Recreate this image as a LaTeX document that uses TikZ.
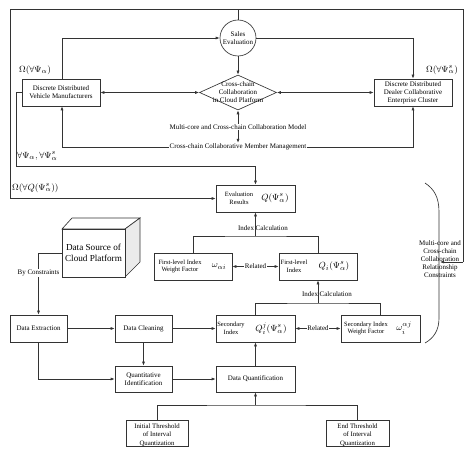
\documentclass[tikz,border=0pt]{standalone}
\usepackage{fontspec}
\setmainfont{Liberation Serif}
\usetikzlibrary{arrows.meta,shapes.geometric}
\tikzset{
  ln/.style={draw=black!80, line width=0.65bp},
  arr/.style={ln, -{Latex[length=4bp,width=3bp]}},
  darr/.style={ln, {Latex[length=4bp,width=3bp]}-{Latex[length=4bp,width=3bp]}},
  box/.style={ln, rectangle, inner sep=0pt, align=center, font=\fontsize{7}{8}\selectfont},
  txt/.style={inner sep=1pt, align=center, font=\fontsize{7}{8}\selectfont},
  stxt/.style={inner sep=0pt, align=center, font=\fontsize{6.5}{7.5}\selectfont},
  mth/.style={inner sep=0pt, font=\fontsize{9.5}{11}\selectfont},
  wlab/.style={txt, fill=white, inner sep=0.8pt}
}
\begin{document}
\begin{tikzpicture}[x=1bp,y=-1bp]
\useasboundingbox (0,0) rectangle (474,452);

% ---- nodes ----
\node[ln, circle, minimum size=36bp, inner sep=0pt, align=center, font=\fontsize{7}{8}\selectfont] (sales) at (238,38) {Sales\\Evaluation};
\node[ln, diamond, minimum width=77bp, minimum height=35bp, inner sep=0pt] (dia) at (238,92.5) {};
\node[txt, inner sep=0pt] (diat) at (238,92.5) {Cross-chain\\Collaboration\\in Cloud Platform};
\node[box, minimum width=78bp, minimum height=27bp] (vm) at (61,92.5) {Discrete Distributed\\Vehicle Manufacturers};
\node[box, minimum width=78bp, minimum height=27bp] (dealer) at (413,92.5) {Discrete Distributed\\Dealer Collaborative\\Enterprise Cluster};
\node[txt, fill=white] (model) at (238,127) {Multi-core and Cross-chain Collaboration Model};
\node[wlab] (mgmt) at (238,147) {Cross-chain Collaborative Member Management};

\node[mth] (lvm) at (35,70) {$\Omega(\forall\Psi_{\alpha})$};
\node[mth] (ldl) at (442,70) {$\Omega(\forall\Psi^{s}_{\alpha})$};
\node[mth, anchor=west] (lpsi) at (17,156) {$\forall\Psi_{\alpha},\forall\Psi^{s}_{\alpha}$};
\node[mth, anchor=west] (lom) at (12,188) {$\Omega(\forall Q(\Psi^{s}_{\alpha}))$};

\node[box, minimum width=79bp, minimum height=27bp] (eval) at (255.5,198.5) {};
\node[stxt] (evalt) at (239,198.5) {Evaluation\\Results};
\node[mth] (evalm) at (275,198.5) {$Q(\Psi^{s}_{\alpha})$};

\node[box, minimum width=78bp, minimum height=27bp] (fw) at (193,266.5) {};
\node[stxt] (fwt) at (180,266.5) {First-level Index\\Weight Factor};
\node[mth] (fwm) at (219,266.5) {$\omega_{\alpha i}$};
\node[box, minimum width=78bp, minimum height=27bp] (fi) at (318,266.5) {};
\node[stxt] (fit) at (294,266.5) {First-level\\Index};
\node[mth] (fim) at (334,266.5) {$Q_{i}(\Psi^{s}_{\alpha})$};

\node[box, minimum width=79bp, minimum height=27bp] (si) at (255.5,328.5) {};
\node[stxt] (sit) at (231,328.5) {Secondary\\Index};
\node[mth] (sim) at (271,328.5) {$Q^{j}_{i}(\Psi^{s}_{\alpha})$};
\node[box, minimum width=79bp, minimum height=27bp] (sw) at (380.5,328.5) {};
\node[stxt] (swt) at (366,328.5) {Secondary Index\\Weight Factor};
\node[mth] (swm) at (404,328) {$\omega^{\alpha j}_{i}$};

\node[box, minimum width=57bp, minimum height=27bp] (dext) at (38.5,328.5) {Data Extraction};
\node[box, minimum width=57bp, minimum height=27bp] (dclean) at (143.5,328.5) {Data Cleaning};
\node[box, minimum width=57bp, minimum height=26bp] (qi) at (143.5,379) {Quantitative\\Identification};
\node[box, minimum width=79bp, minimum height=26bp] (dq) at (255.5,379) {Data Quantification};
\node[box, minimum width=62bp, minimum height=26bp] (ith) at (157,433) {};
\node[stxt, font=\fontsize{6.8}{8.6}\selectfont] (itht) at (157,435) {Initial Threshold\\of Interval\\Quantization};
\node[box, minimum width=63bp, minimum height=26bp] (eth) at (357.5,433) {};
\node[stxt, font=\fontsize{6.8}{8.6}\selectfont] (etht) at (357.5,435) {End Threshold\\of Interval\\Quantization};

% cube
\draw[ln, fill=white] (62,229) -- (72,218) -- (140,218) -- (125,229) -- cycle;
\draw[ln, fill=black!8] (125,229) -- (140,218) -- (140,262) -- (125,277) -- cycle;
\node[ln, rectangle, minimum width=63bp, minimum height=48bp, inner sep=0pt, fill=white, align=center, font=\fontsize{9.2}{11}\selectfont] (cube) at (93.5,253) {Data Source of\\Cloud Platform};

% ---- coordinates ----
\coordinate (top) at (238,9);
\coordinate (tl) at (10,9);
\coordinate (tr) at (463,9);
\coordinate (rr) at (463,262);
\coordinate (brk) at (440,262);
\coordinate (ev1) at (10,198.5);
\coordinate (vmout) at (16,92.5);
\coordinate (psi) at (16,166);
\coordinate (vmup) at (62,38);
\coordinate (dlup) at (413,38);
\coordinate (j1) at (255.5,236);
\coordinate (j2) at (318,303);
\coordinate (j3) at (255.5,405);
\coordinate (cb) at (38.5,253);

% ---- connectors ----
\draw[ln] (sales.north) -- (top) -- (tl) -- (ev1);
\draw[arr] (ev1) -- (eval.west);
\draw[ln] (top) -- (tr) -- (rr);
\draw[arr] (rr) -- (brk);
\draw[ln] (vm.north -| vmup) -- (vmup);
\draw[arr] (vmup) -- (sales.west);
\draw[ln] (sales.east) -- (dlup);
\draw[arr] (dlup) -- (dealer.north);
\draw[arr] (sales.south) -- (dia.north);
\draw[darr] (vm.east) -- (dia.west);
\draw[darr] (dia.east) -- (dealer.west);
\draw[darr] (dia.south) -- (mgmt.north);
\node[txt, fill=white] at (model) {Multi-core and Cross-chain Collaboration Model};
\draw[arr] (mgmt.west) -| (vm.south -| vmup);
\draw[arr] (mgmt.east) -| (dealer.south);
\draw[ln] (vm.west) -- (vmout) -- (psi);
\draw[arr] (psi) -| (eval.north);

\draw[arr] (j1) -- (eval.south);
\draw[ln] (fw.north) |- (j1) -| (fi.north);
\node[txt] (ic1) at (263,228) {Index Calculation};
\draw[darr] (fw.east) -- (fi.west);
\node[wlab] (rel1) at (255.5,266.5) {Related};

\draw[arr] (j2) -- (fi.south);
\draw[ln] (si.north) |- (j2) -| (sw.north);
\node[txt] (ic2) at (327,294) {Index Calculation};
\draw[darr] (si.east) -- (sw.west);
\node[wlab] (rel2) at (318,328.5) {Related};

\draw[ln] (cube.west |- cb) -- (cb);
\draw[arr] (cb) -- (dext.north);
\node[wlab] (byc) at (38.5,273) {By Constraints};
\draw[arr] (dext.east) -- (dclean.west);
\draw[arr] (dclean.east) -- (si.west);
\draw[arr] (dclean.south) -- (qi.north);
\draw[arr] (dext.south) |- (qi.west);
\draw[arr] (qi.east) -- (dq.west);
\draw[arr] (dq.north) -- (si.south);
\draw[ln] (ith.north) |- (j3) -| (eth.north);
\draw[arr] (j3) -- (dq.south);

% bracket
\draw[ln] (425,183) .. controls (434,189) and (439,197) .. (439,212) -- (439,318) .. controls (439,330) and (434,338) .. (425,343);
\node[txt, inner sep=0pt] (mcc) at (440,259) {Multi-core and\\Cross-chain\\Collaboration\\Relationship\\Constraints};
\end{tikzpicture}
\end{document}
